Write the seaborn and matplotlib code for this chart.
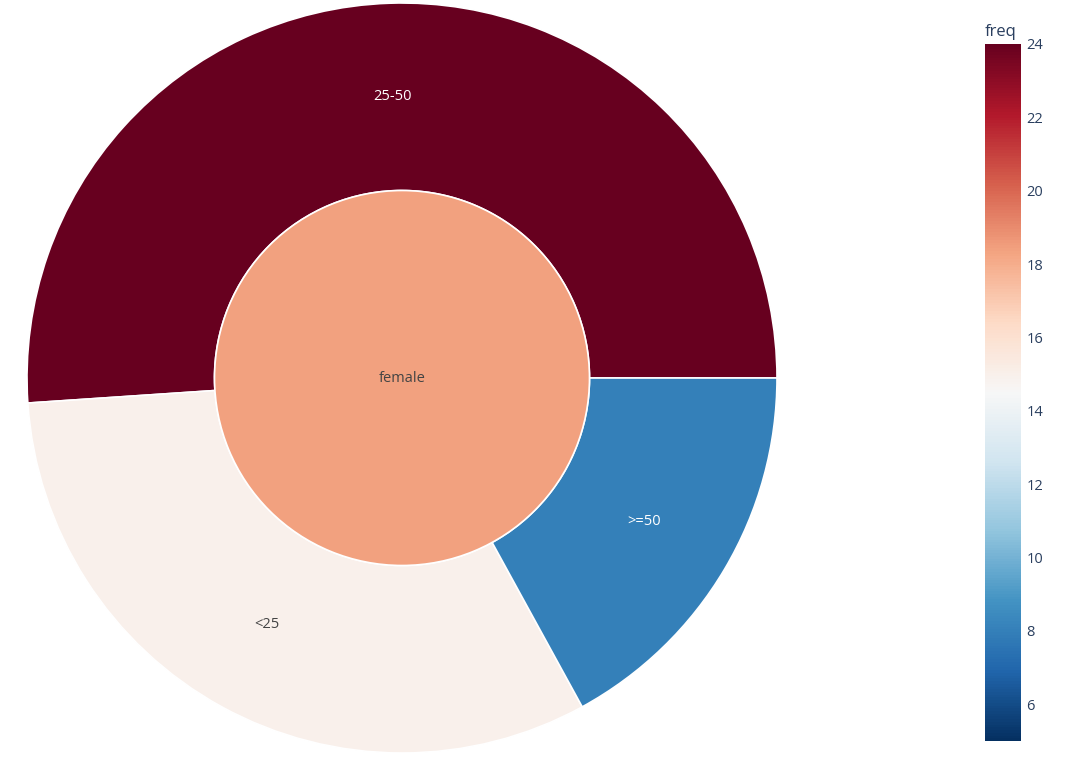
import matplotlib
matplotlib.use("Agg")
import matplotlib.pyplot as plt
import seaborn as sns
import numpy as np
from matplotlib.colors import Normalize
from matplotlib.cm import ScalarMappable

sns.set_theme(style="white")
plt.rcParams['font.family'] = ['Open Sans', 'DejaVu Sans']

parent = "female"
labels = ["25-50", "<25", ">=50"]
freqs = [24, 15, 8]
vmin, vmax = 5, 24

cmap = plt.get_cmap("RdBu_r")
norm = Normalize(vmin, vmax)
parent_color_val = sum(f * f for f in freqs) / sum(freqs)

fig = plt.figure(figsize=(10.79, 7.81), dpi=100)
ax = fig.add_axes([27/1079, 28/781, 750/1079, 750/781])
ax.set_aspect("equal")

ring_colors = [cmap(norm(f)) for f in freqs]
wedges, _ = ax.pie(freqs, radius=1.0, startangle=0, counterclock=True,
                   colors=ring_colors,
                   wedgeprops=dict(width=0.5, edgecolor="white", linewidth=1.2))
ax.pie([1], radius=0.5, colors=[cmap(norm(parent_color_val))],
       wedgeprops=dict(edgecolor="white", linewidth=1.2))

total = sum(freqs)
start = 0.0
for lab, f in zip(labels, freqs):
    mid = np.deg2rad(start + 180 * f / total)
    r = 0.75
    val = norm(f)
    col = "white" if (val > 0.8 or val < 0.2) else "#444444"
    ax.text(r * np.cos(mid), r * np.sin(mid), lab, ha="center", va="center",
            fontsize=10.5, color=col)
    start += 360 * f / total
ax.text(0, 0, parent, ha="center", va="center", fontsize=10.5, color="#444444")
ax.set_xlim(-1, 1)
ax.set_ylim(-1, 1)
ax.axis("off")

cax = fig.add_axes([985/1079, 40/781, 36/1079, 697/781])
cb = fig.colorbar(ScalarMappable(norm=norm, cmap=cmap), cax=cax)
cb.outline.set_visible(False)
cb.set_ticks([6, 8, 10, 12, 14, 16, 18, 20, 22, 24])
cax.tick_params(labelsize=10.5, colors="#2a3f5f", length=0, pad=4)
cax.set_title("freq", fontsize=12, color="#2a3f5f", loc="left", pad=6)

fig.savefig("out.png", dpi=100, facecolor="white")
